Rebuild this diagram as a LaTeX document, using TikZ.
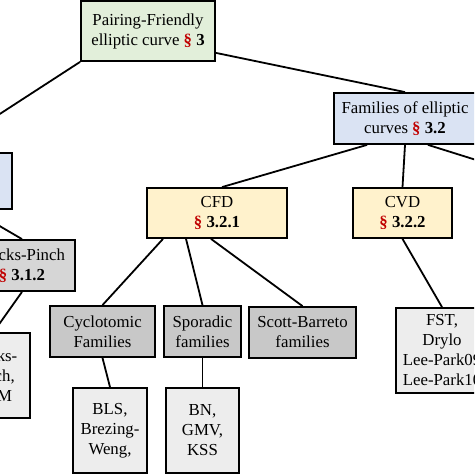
\documentclass[tikz,border=0pt]{standalone}
\usepackage{fontspec}
\setmainfont{Liberation Serif}
\usetikzlibrary{calc}

\definecolor{rootgreen}{HTML}{E2EFDA}
\definecolor{famblue}{HTML}{DAE3F3}
\definecolor{methyellow}{HTML}{FFF2CC}
\definecolor{midgray}{HTML}{D6D6D6}
\definecolor{darkgray}{HTML}{C8C8C8}
\definecolor{leafgray}{HTML}{EDEDED}
\definecolor{secred}{HTML}{C00000}

% red section sign followed by a bold number
\newcommand{\secmark}[1]{\textcolor{secred}{\textbf{\S}}~\textbf{#1}}

\begin{document}
\begin{tikzpicture}[
    x=0.5pt, y=-0.5pt,
    box/.style={draw, line width=0.9pt, align=center, inner sep=1pt,
        font=\fontsize{8.4}{10}\selectfont},
    rootbox/.style={box, fill=rootgreen},
    famb/.style={box, fill=famblue},
    methb/.style={box, fill=methyellow},
    midb/.style={box, fill=midgray},
    classb/.style={box, fill=darkgray},
    leafb/.style={box, fill=leafgray},
    link/.style={line width=0.9pt}]

    % the picture is a crop of a larger tree
    \clip (0,0) rectangle (474,474);

    % root of the tree
    \node at (148,31) (top) [rootbox, minimum width=67pt, minimum height=30pt]
        {Pairing-Friendly\\elliptic curve \secmark{3}};

    % second level: left box is cut off, right box is the families
    \node at (-59,181) (single) [famb, minimum width=71pt, minimum height=28pt] {};
    \node at (405,118.5) (fam) [famb, minimum width=71pt, minimum height=25.5pt]
        {Families of elliptic\\curves \secmark{3.2}};
    \coordinate (other) at (540,180);

    % methods
    \node at (22,265.5) (cp) [midb, minimum width=53pt, minimum height=25.5pt]
        {Cocks-Pinch\\\secmark{3.1.2}};
    \node at (217,213) (cfd) [methb, minimum width=70pt, minimum height=25pt]
        {CFD\\\secmark{3.2.1}};
    \node at (402.5,213) (cvd) [methb, minimum width=49.5pt, minimum height=25pt]
        {CVD\\\secmark{3.2.2}};

    % kinds of families under CFD
    \node at (102.5,331.5) (cyc) [classb, minimum width=52.5pt, minimum height=25.5pt]
        {Cyclotomic\\Families};
    \node at (202.5,331.5) (spo) [classb, minimum width=38.5pt, minimum height=25.5pt]
        {Sporadic\\families};
    \node at (302.5,332.5) (sb) [classb, minimum width=53.5pt, minimum height=25.5pt]
        {Scott-Barreto\\families};

    % leaves
    \node at (-6.5,375.5) (dem) [leafb, minimum width=36.5pt, minimum height=42.5pt]
        {Cocks-\\Pinch,\\DEM};
    \node at (110,430.5) (bls) [leafb, minimum width=37pt, minimum height=42.5pt]
        {BLS,\\Brezing-\\Weng,};
    \node at (202.5,430.5) (bn) [leafb, minimum width=36.5pt, minimum height=42.5pt]
        {BN,\\GMV,\\KSS};
    \node at (442,350.5) (fst) [leafb, minimum width=46pt, minimum height=42.5pt]
        {FST,\\Drylo\\Lee-Park09\\Lee-Park10};

    % connectors
    \draw [link] (top.south west) -- (single.north);
    \draw [link] ($(top.south east)+(0,-9)$) -- (fam.north);
    \draw [link] ($(single.south)+(31,0)$) -- (cp.north);
    \draw [link] (cp.south) -- (dem.north);
    \draw [link] ($(fam.south)+(-38,0)$) -- ($(cfd.north)+(5,0)$);
    \draw [link] (fam.south) -- (cvd.north);
    \draw [link] ($(fam.south)+(23,0)$) -- (other);
    \draw [link] ($(cfd.south)+(-54,0)$) -- (cyc.north);
    \draw [link] ($(cfd.south)+(-31,0)$) -- (spo.north);
    \draw [link] ($(cfd.south)+(-6,0)$) -- (sb.north);
    \draw [link] (cvd.south) -- (fst.north);
    \draw [link] (cyc.south) -- (bls.north);
    \draw [link] (spo.south) -- (bn.north);

\end{tikzpicture}
\end{document}
